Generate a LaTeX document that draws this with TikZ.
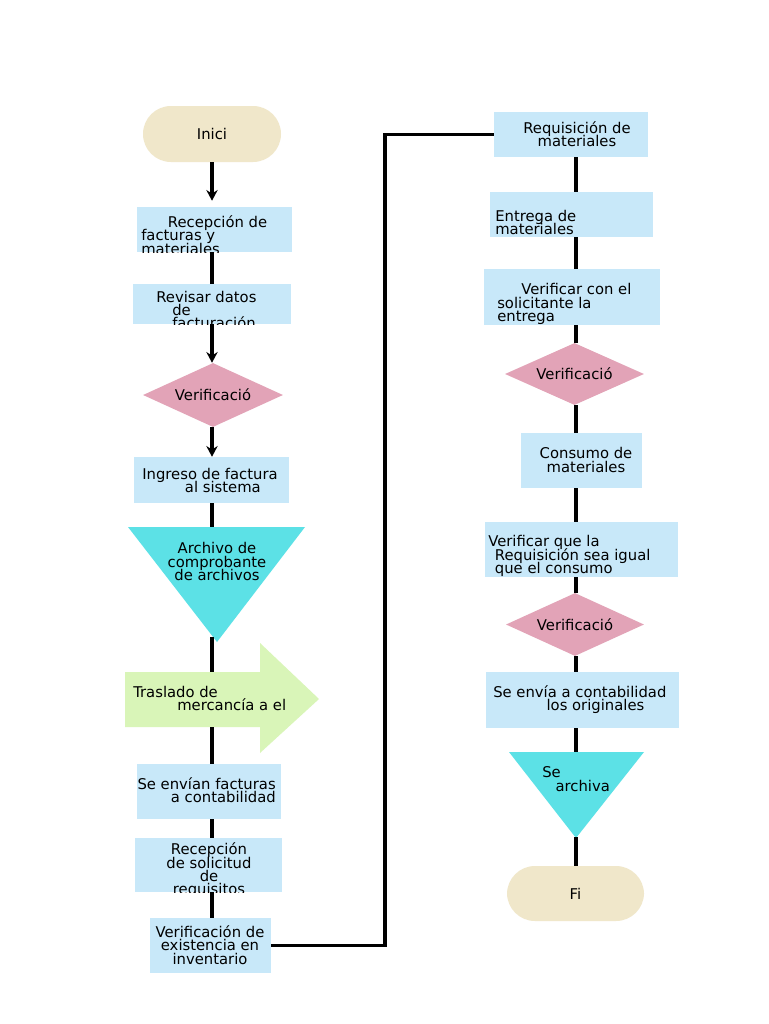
\documentclass[tikz,border=0pt]{standalone}
\usepackage{fontspec}
\setmainfont{DejaVu Sans}
\usetikzlibrary{shapes.geometric,arrows.meta}

\definecolor{procblue}{HTML}{C8E8F9}
\definecolor{decpink}{HTML}{E2A3B7}
\definecolor{archcyan}{HTML}{5CE1E6}
\definecolor{movgreen}{HTML}{D9F5B8}
\definecolor{termbeige}{HTML}{F0E7CA}

\tikzset{
  boxfont/.style={font={\fontsize{11.1}{10}\selectfont\lineskiplimit=-20pt}},
  txt/.style={shape=rectangle, inner sep=0pt, text=black, boxfont},
  proc/.style={rectangle, fill=procblue, inner sep=0pt},
  term/.style={rectangle, rounded corners=21pt, fill=termbeige, inner sep=0pt, minimum width=103.5pt, minimum height=42pt, boxfont},
  dec/.style={diamond, aspect=2, fill=decpink, inner sep=0pt, boxfont},
  conn/.style={line width=2.4pt},
  arr/.style={conn, -{Stealth[length=8pt,width=8.5pt]}}
}

\begin{document}
\begin{tikzpicture}[x=0.75pt,y=-0.75pt]
\fill[white] (0,0) rectangle (768,1024);
\useasboundingbox (0,0) rectangle (768,1024);

\coordinate (colL) at (212,0);
\coordinate (colR) at (576,0);
\coordinate (jog) at (385,0);

% left column
\node[term] (inici) at (212,134) {Inici};
\node[proc, minimum width=116.25pt, minimum height=33.75pt] (rec1) at (214.5,229.5) {};
\begin{scope}
  \clip (rec1.south west) rectangle (rec1.north east);
  \node[txt, align=left, anchor=west] (t-rec1) at (141,235) {\hspace*{20pt}Recepción de\\facturas y\\materiales};
\end{scope}
\node[proc, minimum width=118.5pt, minimum height=30pt] (rev) at (212,304) {};
\begin{scope}
  \clip (rev.south west) rectangle (rev.north east);
  \node[txt, align=left, anchor=west] (t-rev) at (156,310) {Revisar datos\\\hspace*{12pt}de\\\hspace*{12pt}facturación};
\end{scope}
\node[dec, minimum width=105pt, minimum height=48pt] (dec1) at (213,395) {Verificació};
\node[proc, minimum width=116.25pt, minimum height=34.5pt] (ing) at (211.5,480) {};
\node[txt, align=left, anchor=west] (t-ing) at (142,480.5) {Ingreso de factura\\\hspace*{32pt}al sistema};

\fill[archcyan] (128,527) -- (305,527) -- (217,642) -- cycle;
\node[txt, align=center] (t-arch1) at (217,561.5) {Archivo de\\comprobante\\de archivos};
\coordinate (tri1top) at (212,527);
\coordinate (tri1apex) at (212,637);

\fill[movgreen] (125,672) -- (260,672) -- (260,643) -- (319,699) -- (260,753) -- (260,727) -- (125,727) -- cycle;
\node[txt, align=left, anchor=west] (t-tras) at (133,698.5) {Traslado de\\\hspace*{33pt}mercancía a el};
\coordinate (trasN) at (212,672);
\coordinate (trasS) at (212,727);

\node[proc, minimum width=108pt, minimum height=41.25pt] (env) at (209,791.5) {};
\node[txt, align=right, anchor=east] (t-env) at (276,790.5) {Se envían facturas\\a contabilidad};
\node[proc, minimum width=110.25pt, minimum height=40.5pt] (sol) at (208.5,865) {};
\begin{scope}
  \clip (sol.south west) rectangle (sol.north east);
  \node[txt, align=center] (t-sol) at (209,870.5) {Recepción\\de solicitud\\de\\requisitos};
\end{scope}
\node[proc, minimum width=90.75pt, minimum height=41.25pt] (exi) at (210.5,945.5) {};
\node[txt, align=center] (t-exi) at (210,945) {Verificación de\\existencia en\\inventario};

% right column
\node[proc, minimum width=115.5pt, minimum height=33.75pt] (req) at (571,134.5) {};
\node[txt, align=center] (t-req) at (577,134.5) {Requisición de\\materiales};
\node[proc, minimum width=122.25pt, minimum height=33.75pt] (ent) at (571.5,214.5) {};
\node[txt, align=left, anchor=west] (t-ent) at (495,222.5) {Entrega de\\materiales};
\node[proc, minimum width=132pt, minimum height=42pt] (vce) at (572,297) {};
\node[txt, align=left, anchor=west] (t-vce) at (497,304) {\hspace*{18pt}Verificar con el\\solicitante la\\entrega};
\node[dec, minimum width=104.25pt, minimum height=46.5pt] (dec2) at (574.5,374) {Verificació};
\node[proc, minimum width=90.75pt, minimum height=41.25pt] (con) at (581.5,460.5) {};
\node[txt, align=center] (t-con) at (586,460) {Consumo de\\materiales};
\node[proc, minimum width=144.75pt, minimum height=41.25pt] (vqr) at (581.5,549.5) {};
\node[txt, align=left, anchor=west] (t-vqr) at (488,556) {Verificar que la\\\hspace*{5pt}Requisición sea igual\\\hspace*{5pt}que el consumo};
\node[dec, minimum width=103.5pt, minimum height=47.25pt] (dec3) at (575,624.5) {Verificació};
\node[proc, minimum width=144.75pt, minimum height=42pt] (orig) at (582.5,700) {};
\node[txt, align=left, anchor=west] (t-orig) at (493,699.5) {Se envía a contabilidad\\\hspace*{40pt}los originales};

\fill[archcyan] (509,752) -- (644,752) -- (576,838) -- cycle;
\node[txt, align=left, anchor=west] (t-arch2) at (542,779) {Se\\\hspace*{10pt}archiva};
\coordinate (tri2top) at (576,752);
\coordinate (tri2apex) at (576,837);

\node[term, minimum width=102.75pt, minimum height=41.25pt] (fin) at (575.5,893.5) {Fi};

% connectors
\draw[arr, shorten >=4.5pt] (inici.south -| colL) -- (rec1.north -| colL);
\draw[conn] (rec1.south -| colL) -- (rev.north -| colL);
\draw[arr] (rev.south -| colL) -- (dec1.north -| colL);
\draw[arr] (dec1.south -| colL) -- (ing.north -| colL);
\draw[conn] (ing.south -| colL) -- (tri1top);
\draw[conn] (tri1apex) -- (trasN);
\draw[conn] (trasS) -- (env.north -| colL);
\draw[conn] (env.south -| colL) -- (sol.north -| colL);
\draw[conn] (sol.south -| colL) -- (exi.north -| colL);
\draw[conn] (exi.east) -- (exi.east -| jog) -- (req.west -| jog) -- (req.west);

\draw[conn] (req.south -| colR) -- (ent.north -| colR);
\draw[conn] (ent.south -| colR) -- (vce.north -| colR);
\draw[conn] (vce.south -| colR) -- (dec2.north -| colR);
\draw[conn] (dec2.south -| colR) -- (con.north -| colR);
\draw[conn] (con.south -| colR) -- (vqr.north -| colR);
\draw[conn] (vqr.south -| colR) -- (dec3.north -| colR);
\draw[conn] (dec3.south -| colR) -- (orig.north -| colR);
\draw[conn] (orig.south -| colR) -- (tri2top);
\draw[conn] (tri2apex) -- (fin.north -| colR);
\end{tikzpicture}
\end{document}
